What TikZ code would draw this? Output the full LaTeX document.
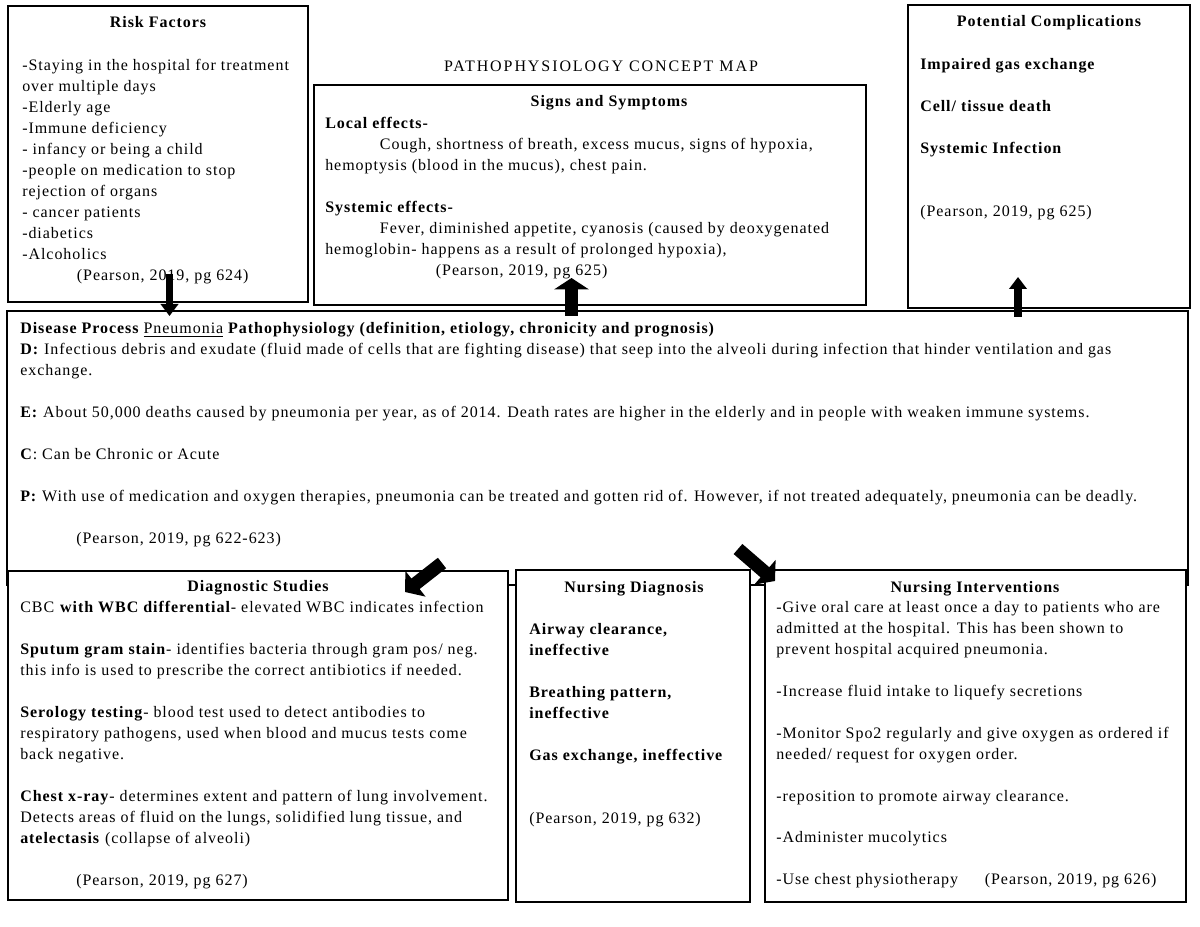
\documentclass[tikz,border=0pt]{standalone}
\usepackage{fontspec}
\setmainfont[LetterSpace=6.0]{Liberation Serif}
\usetikzlibrary{arrows.meta,fit,positioning}

\tikzset{
  box/.style={draw, line width=1.5pt, fill=white, inner sep=0pt},
  txt/.style={align=left, inner sep=0pt, anchor=north west, yshift=8pt,
    execute at begin node=\strut, font=\fontsize{12}{15.7}\selectfont},
  head/.style={inner sep=0pt, anchor=base, font=\bfseries\fontsize{12}{15.7}\selectfont},
  thinarrow/.style={line width=#1, -{Triangle[width=13pt, length=9pt]}},
  fatarrow/.style={line width=10pt, -{Triangle[width=24pt, length=10pt]}}
}
\newcommand\blank{\\[15.7pt]}

\begin{document}
\begin{tikzpicture}[x=0.75pt, y=-0.75pt]
  \useasboundingbox (0,0) rectangle (1200,927);

  % Boxes
  \node[box, fit={(7,311) (1188,585)}] (disease) {};
  \node[box, fit={(8,6) (308,302)}] (risk) {};
  \node[box, fit={(314,85) (866,305)}] (signs) {};
  \node[box, fit={(908,5) (1190,308)}] (compl) {};
  \node[box, fit={(8,571) (508,900)}] (diag) {};
  \node[box, fit={(516,570) (750,902)}] (nursdiag) {};
  \node[box, fit={(765,570) (1186,902)}] (interv) {};

  % Title
  \node[head, font=\fontsize{12}{15.7}\selectfont\addfontfeature{LetterSpace=12.0}] (title) at (601,72) {PATHOPHYSIOLOGY CONCEPT MAP};

  % Risk factors
  \node[head] (risk-head) at (158,28) {Risk Factors};
  \node[txt] (risk-text) at (22,70) {-Staying in the hospital for treatment\\
    over multiple days\\
    -Elderly age\\
    -Immune deficiency\\
    - infancy or being a child\\
    -people on medication to stop\\
    rejection of organs\\
    - cancer patients\\
    -diabetics\\
    -Alcoholics\\
    \hspace*{41pt}(Pearson, 2019, pg 624)};

  % Signs and symptoms
  \node[head] (signs-head) at (609,107) {Signs and Symptoms};
  \node[txt] (signs-text) at (325,128) {\textbf{Local effects-}\\
    \hspace*{41pt}Cough, shortness of breath, excess mucus, signs of hypoxia,\\
    hemoptysis (blood in the mucus), chest pain.\blank
    \textbf{Systemic effects-}\\
    \hspace*{41pt}Fever, diminished appetite, cyanosis (caused by deoxygenated\\
    hemoglobin- happens as a result of prolonged hypoxia),\\
    \hspace*{83pt}(Pearson, 2019, pg 625)};

  % Potential complications
  \node[head] (compl-head) at (1049,27) {Potential Complications};
  \node[txt] (compl-text) at (920,69) {\textbf{Impaired gas exchange}\blank
    \textbf{Cell/ tissue death}\blank
    \textbf{Systemic Infection}\\[31.4pt]
    (Pearson, 2019, pg 625)};

  % Disease process
  \node[txt] (disease-text) at (20,333) {\textbf{Disease Process \underline{\mdseries Pneumonia} Pathophysiology (definition, etiology, chronicity and prognosis)}\\
    \textbf{D:} Infectious debris and exudate (fluid made of cells that are fighting disease) that seep into the alveoli during infection that hinder ventilation and gas\\
    exchange.\blank
    \textbf{E:} About 50,000 deaths caused by pneumonia per year, as of 2014. Death rates are higher in the elderly and in people with weaken immune systems.\blank
    \textbf{C}: Can be Chronic or Acute\blank
    \textbf{P:} With use of medication and oxygen therapies, pneumonia can be treated and gotten rid of. However, if not treated adequately, pneumonia can be deadly.\blank
    \hspace*{42pt}(Pearson, 2019, pg 622-623)};

  % Diagnostic studies
  \node[head] (diag-head) at (258,591) {Diagnostic Studies};
  \node[txt] (diag-text) at (20,612) {CBC \textbf{with WBC differential}- elevated WBC indicates infection\blank
    \textbf{Sputum gram stain}- identifies bacteria through gram pos/ neg.\\
    this info is used to prescribe the correct antibiotics if needed.\blank
    \textbf{Serology testing}- blood test used to detect antibodies to\\
    respiratory pathogens, used when blood and mucus tests come\\
    back negative.\blank
    \textbf{Chest x-ray}- determines extent and pattern of lung involvement.\\
    Detects areas of fluid on the lungs, solidified lung tissue, and\\
    \textbf{atelectasis} (collapse of alveoli)\blank
    \hspace*{42pt}(Pearson, 2019, pg 627)};

  % Nursing diagnosis
  \node[head] (nursdiag-head) at (634,592) {Nursing Diagnosis};
  \node[txt, font=\bfseries\fontsize{12}{15.7}\selectfont] (nursdiag-text) at (529,634) {Airway clearance,\\
    ineffective\blank
    Breathing pattern,\\
    ineffective\blank
    Gas exchange, ineffective\\[31.4pt]
    \mdseries (Pearson, 2019, pg 632)};

  % Nursing interventions
  \node[head] (interv-head) at (975,592) {Nursing Interventions};
  \node[txt] (interv-text) at (776,612) {-Give oral care at least once a day to patients who are\\
    admitted at the hospital. This has been shown to\\
    prevent hospital acquired pneumonia.\blank
    -Increase fluid intake to liquefy secretions\blank
    -Monitor Spo2 regularly and give oxygen as ordered if\\
    needed/ request for oxygen order.\blank
    -reposition to promote airway clearance.\blank
    -Administer mucolytics\blank
    -Use chest physiotherapy\hspace{20pt}(Pearson, 2019, pg 626)};

  % Arrow ends
  \coordinate (risk-out) at (169.5,274);
  \coordinate (disease-in) at (169.5,316);
  \coordinate (signs-in) at (571.5,278);
  \coordinate (signs-out) at (571.5,316);
  \coordinate (compl-in) at (1018,277);
  \coordinate (compl-out) at (1018,317);
  \coordinate (diag-out) at (442,563);
  \coordinate (diag-in) at (405,592);
  \coordinate (interv-out) at (738,549);
  \coordinate (interv-in) at (775,581);

  % Arrows
  \draw[thinarrow=5.25pt] (risk-out) -- (disease-in);
  \draw[fatarrow, -{Triangle[width=25.5pt, length=8.5pt]}] (signs-out) -- (signs-in);
  \draw[thinarrow=6pt] (compl-out) -- (compl-in);
  \foreach \a/\b in {diag-out/diag-in, interv-out/interv-in} {
    \draw[fatarrow] (\a) -- (\b);
  }
\end{tikzpicture}
\end{document}
